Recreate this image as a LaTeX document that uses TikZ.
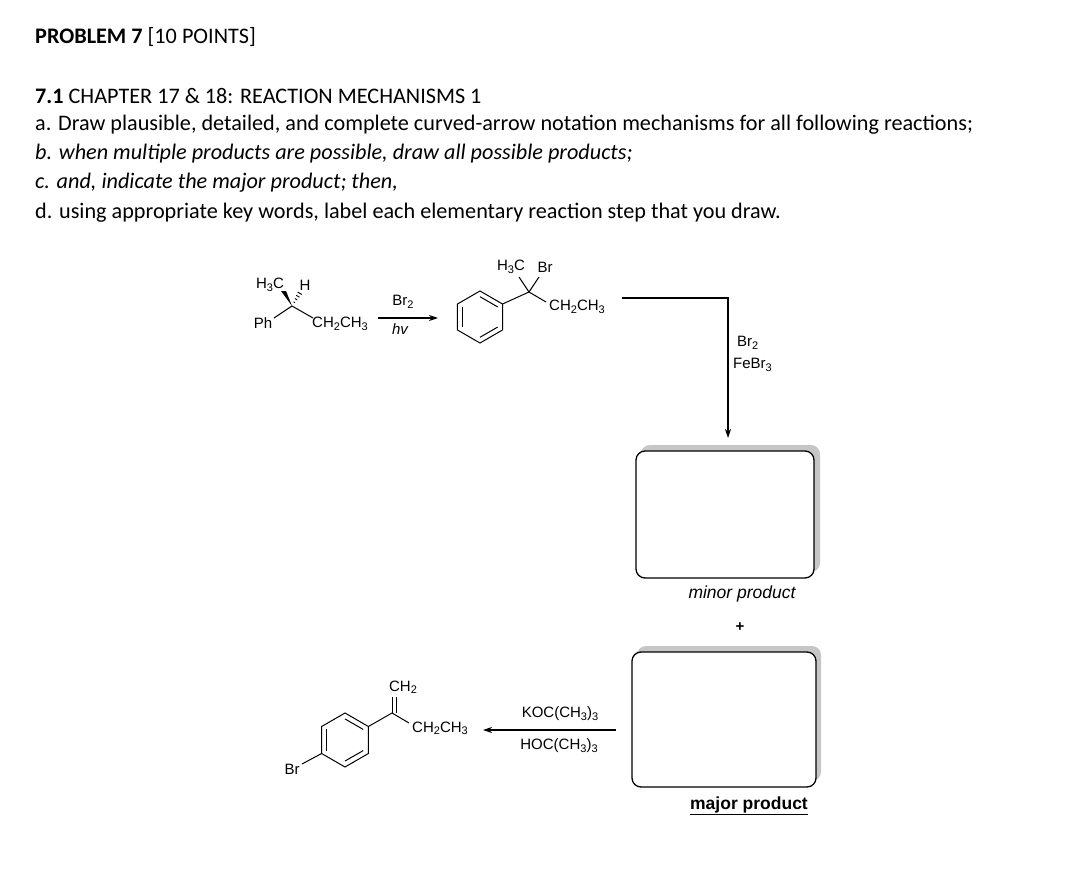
\documentclass[tikz,border=0pt]{standalone}
\usepackage{fontspec}
\setmainfont{Carlito}
\newfontfamily\chem{Liberation Sans}
\usetikzlibrary{arrows.meta,calc}
\newcommand{\sbs}[1]{\raisebox{-0.3ex}{\fontsize{11}{12}\selectfont #1}}
\begin{document}
\begin{tikzpicture}[x=1pt,y=-1pt,
  hdr/.style={anchor=west,inner sep=0pt,font=\fontsize{22.2}{26}\selectfont},
  lab/.style={inner sep=0pt,font=\chem\fontsize{15}{17}\selectfont},
  bnd/.style={line width=1pt},
  rxn/.style={line width=1.2pt,-{Stealth[length=9pt,width=6pt]}},
  pbox/.style={draw,line width=1.3pt,rounded corners=9pt,fill=white}]
\useasboundingbox (0,0) rectangle (1089,877);
\node[hdr] (t0) at (35,37) {\textbf{PROBLEM 7} [10 POINTS]};
\node[hdr] (t1) at (35,96) {\textbf{7.1} CHAPTER 17 \& 18: REACTION MECHANISMS 1};
\node[hdr] (t2) at (35,125) {a. Draw plausible, detailed, and complete curved-arrow notation mechanisms for all following reactions;};
\node[hdr] (t3) at (35,154) {\itshape b. when multiple products are possible, draw all possible products;};
\node[hdr] (t4) at (35,183) {\itshape c. and, indicate the major product; then,};
\node[hdr] (t5) at (35,213) {d. using appropriate key words, label each elementary reaction step that you draw.};
% starting material
\node[lab] (h3c1) at (270,285) {H\sbs{3}C};
\node[lab] (h1) at (305,285) {H};
\node[lab] (ph) at (263,323) {Ph};
\node[lab] (et1) at (340,324) {CH\sbs{2}CH\sbs{3}};
\coordinate (c1) at (292,306);
\fill (c1) -- (281,291) -- (286,291) -- cycle;
\foreach \t in {0.25,0.45,0.65,0.85}
  \draw[line width=0.9pt] ($(c1)!\t!(301,291)+(-2.5*\t,-1.5*\t)$) -- ($(c1)!\t!(301,291)+(2.5*\t,1.5*\t)$);
\draw[bnd] (c1) -- (274,318);
\draw[bnd] (c1) -- (313,318);
% arrow 1
\coordinate (a1s) at (378,318); \coordinate (a1e) at (438,318);
\draw[rxn] (a1s) -- (a1e);
\node[lab] (br2a) at (403,302) {Br\sbs{2}};
\node[lab] (hv) at (400,329) {\itshape hv};
% benzyl bromide
\coordinate (rc) at (480,317);
\foreach \i in {0,...,5} \coordinate (r\i) at ($(rc)+(270+60*\i:26)$);
\draw[bnd] (r0)--(r1)--(r2)--(r3)--(r4)--(r5)--cycle;
\draw[bnd] ($(rc)!0.78!(r0)$) -- ($(rc)!0.78!(r1)$);
\draw[bnd] ($(rc)!0.78!(r2)$) -- ($(rc)!0.78!(r3)$);
\draw[bnd] ($(rc)!0.78!(r4)$) -- ($(rc)!0.78!(r5)$);
\coordinate (c2) at (529,292);
\draw[bnd] (r1) -- (c2);
\node[lab] (h3c2) at (511,267) {H\sbs{3}C};
\node[lab] (br1) at (545,267) {Br};
\node[lab] (et2) at (577,307) {CH\sbs{2}CH\sbs{3}};
\draw[bnd] (c2) -- (519,277); \draw[bnd] (c2) -- (539,277); \draw[bnd] (c2) -- (546,302);
% arrow 2
\coordinate (a2s) at (622,298); \coordinate (a2m) at (728,298); \coordinate (a2e) at (728,438);
\draw[rxn] (a2s) -- (a2m) -- (a2e);
\node[lab,anchor=west] (br2b) at (737,343) {Br\sbs{2}};
\node[lab,anchor=west] (febr) at (733,365) {FeBr\sbs{3}};
% boxes
\fill[gray!45,rounded corners=9pt] (641,445) rectangle (820,572);
\node[pbox,minimum width=178pt,minimum height=127pt] (b1) at (725,514.5) {};
\node[lab,font=\chem\fontsize{17.5}{19}\selectfont] (minor) at (742,594) {\itshape minor product};
\node[lab] (plus) at (740,627) {\bfseries +};
\fill[gray!45,rounded corners=9pt] (637,646) rectangle (821,781);
\node[pbox,minimum width=184pt,minimum height=135pt] (b2) at (724,719.5) {};
\node[lab,font=\chem\fontsize{17.5}{19}\selectfont] (major) at (749,806) {\bfseries\underline{major product}};
% arrow 3
\coordinate (a3s) at (616,730); \coordinate (a3e) at (483,730);
\draw[rxn] (a3s) -- (a3e);
\node[lab] (koc) at (560,714) {KOC(CH\sbs{3})\sbs{3}};
\node[lab] (hoc) at (559,746) {HOC(CH\sbs{3})\sbs{3}};
% product
\coordinate (sc) at (345,740);
\foreach \i in {0,...,5} \coordinate (s\i) at ($(sc)+(270+60*\i:27)$);
\draw[bnd] (s0)--(s1)--(s2)--(s3)--(s4)--(s5)--cycle;
\draw[bnd] ($(sc)!0.78!(s0)$) -- ($(sc)!0.78!(s1)$);
\draw[bnd] ($(sc)!0.78!(s2)$) -- ($(sc)!0.78!(s3)$);
\draw[bnd] ($(sc)!0.78!(s4)$) -- ($(sc)!0.78!(s5)$);
\node[lab] (br3) at (292,769) {Br};
\draw[bnd] (s4) -- (302,764);
\coordinate (c3) at (392,713);
\draw[bnd] (s1) -- (c3);
\node[lab] (ch2) at (403,687) {CH\sbs{2}};
\draw[bnd] (c3) -- (392,697); \draw[bnd] (396,713) -- (396,697);
\node[lab] (et3) at (440,728) {CH\sbs{2}CH\sbs{3}};
\draw[bnd] (c3) -- (409,723);
\end{tikzpicture}
\end{document}
